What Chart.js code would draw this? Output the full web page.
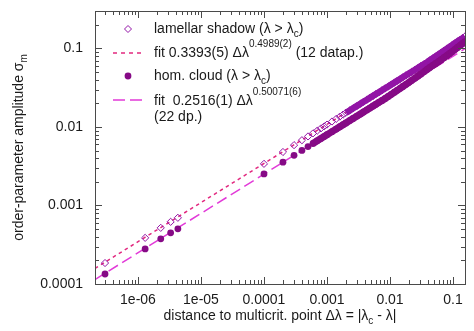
<!DOCTYPE html>
<html lang="en">
<head>
  <meta charset="UTF-8" />
  <title>Order parameter amplitude vs distance to multicritical point</title>
  <style>
    body {
      margin: 0;
      background-color: #ffffff;
    }
    #wrap {
      width: 474px;
      height: 331px;
      position: relative;
    }
  </style>
</head>
<body>
  <div id="wrap"><canvas id="chartCanvas"></canvas></div>

  <script src="https://cdn.jsdelivr.net/npm/chart.js"></script>
  <script>
    // distance to multicritical point (shared by both data sets)
    const dLambda = [
      3e-7, 1.3e-6, 2.3e-6, 3.3e-6, 4.3e-6,
      0.0001, 0.0002, 0.0003, 0.0004, 0.0005, 0.0006, 0.0007, 0.0008, 0.0009, 0.001,
      0.0012, 0.0014, 0.0016, 0.0018, 0.002, 0.0023, 0.0026, 0.003, 0.0034, 0.0038,
      0.0043, 0.0048, 0.0054, 0.006, 0.0067, 0.0075, 0.0084, 0.0094, 0.0105, 0.0118,
      0.013, 0.0145, 0.016, 0.018, 0.02, 0.022, 0.025, 0.028, 0.031, 0.035,
      0.039, 0.043, 0.048, 0.053, 0.059, 0.065, 0.072, 0.08, 0.088, 0.097,
      0.107, 0.118, 0.13, 0.142, 0.155
    ];
    // lamellar shadow (open diamonds)
    const lamellarAmp = [
      1.85e-4, 3.87e-4, 5.19e-4, 6.19e-4, 6.97e-4,
      0.00339, 0.0048, 0.00587, 0.00678, 0.00758, 0.0083, 0.00897, 0.00959, 0.01017, 0.01072,
      0.01174, 0.01268, 0.01356, 0.01438, 0.01516, 0.01626, 0.01729, 0.01857, 0.01977, 0.0209,
      0.02223, 0.02349, 0.02491, 0.02626, 0.02775, 0.02936, 0.03107, 0.03287, 0.03474, 0.03683,
      0.03865, 0.04082, 0.04288, 0.04548, 0.04794, 0.05028, 0.0536, 0.05672, 0.05969, 0.06342,
      0.06695, 0.0707, 0.075, 0.0792, 0.084, 0.0886, 0.0937, 0.0992, 0.1046, 0.1103,
      0.1164, 0.1229, 0.1293, 0.1354, 0.1421
    ];
    // homogeneous cloud (filled circles)
    const homAmp = [
      1.34e-4, 2.8e-4, 3.76e-4, 4.48e-4, 5.04e-4,
      0.00252, 0.00356, 0.00436, 0.00503, 0.00563, 0.00616, 0.00666, 0.00712, 0.00755, 0.00796,
      0.00872, 0.00941, 0.01006, 0.01067, 0.01125, 0.01207, 0.01283, 0.01378, 0.01467, 0.01551,
      0.0165, 0.01743, 0.01849, 0.01949, 0.02059, 0.02179, 0.02306, 0.02451, 0.02604, 0.02774,
      0.02926, 0.03106, 0.03278, 0.03494, 0.037, 0.03907, 0.04197, 0.04471, 0.0474, 0.05084,
      0.05416, 0.05739, 0.06091, 0.06429, 0.06814, 0.07185, 0.07629, 0.08112, 0.08584, 0.0909,
      0.0967, 0.10285, 0.10932, 0.11567, 0.12234
    ];
    // fit lines (straight in log-log, end points read at the frame edges)
    const fitLamX = [2.08e-7, 0.155];
    const fitLamY = [1.58e-4, 0.1335];
    const fitHomX = [2.08e-7, 0.155];
    const fitHomY = [1.14e-4, 0.0992];

    const xTickVals = [1e-6, 1e-5, 1e-4, 1e-3, 0.01, 0.1];
    const xTickLabels = ['1e-06', '1e-05', '0.0001', '0.001', '0.01', '0.1'];
    const yTickVals = [1e-4, 1e-3, 0.01, 0.1];
    const yTickLabels = ['0.0001', '0.001', '0.01', '0.1'];

    const xMin = 2.08e-7, xMax = 0.155;
    const yMin = 1e-4, yMax = 0.3;

    const lamColor = '#9214a6';
    const homColor = '#860a86';
    const fitLamColor = '#e2287f';
    const fitHomColor = '#e23ad8';
    const frameColor = '#4a4a4a';
    const FONT = '"Liberation Sans", Arial, Helvetica, sans-serif';

    const toPts = (xs, ys) => xs.map((x, i) => ({ x: x, y: ys[i] }));

    function bandSegment(threshold, color) {
      return ctx => (ctx.p0.parsed.x >= threshold ? color : 'rgba(0,0,0,0)');
    }

    // draws a run of text pieces: [text, 'n'|'sub'|'sup']
    function drawRich(ctx, x, y, parts) {
      ctx.textBaseline = 'middle';
      ctx.textAlign = 'left';
      parts.forEach(p => {
        let size = 14, dy = 0;
        if (p[1] === 'sub') { size = 10; dy = 5; }
        if (p[1] === 'sup') { size = 10; dy = -9; }
        ctx.font = size + 'px ' + FONT;
        ctx.fillText(p[0], x, y + dy);
        x += ctx.measureText(p[0]).width;
      });
      return x;
    }

    function richWidth(ctx, parts) {
      let w = 0;
      parts.forEach(p => {
        const size = p[1] === 'n' ? 14 : 10;
        ctx.font = size + 'px ' + FONT;
        w += ctx.measureText(p[0]).width;
      });
      return w;
    }

    const framePlugin = {
      id: 'framePlugin',
      afterDatasetsDraw(chart) {
        const ctx = chart.ctx;
        const a = chart.chartArea;
        const xs = chart.scales.x, ys = chart.scales.y;
        ctx.save();
        ctx.strokeStyle = frameColor;
        ctx.lineWidth = 1;
        ctx.strokeRect(Math.round(a.left) + 0.5, Math.round(a.top) + 0.5,
          Math.round(a.right - a.left), Math.round(a.bottom - a.top));

        // inward ticks on all four sides, minor ticks at 2..9
        ctx.beginPath();
        for (let e = -7; e <= 0; e++) {
          for (let k = 1; k <= 9; k++) {
            const v = k * Math.pow(10, e);
            const len = k === 1 ? 7 : 4;
            if (v >= xMin && v <= xMax) {
              const px = Math.round(xs.getPixelForValue(v)) + 0.5;
              ctx.moveTo(px, a.bottom); ctx.lineTo(px, a.bottom - len);
              ctx.moveTo(px, a.top); ctx.lineTo(px, a.top + len);
            }
            if (v >= yMin && v <= yMax) {
              const py = Math.round(ys.getPixelForValue(v)) + 0.5;
              ctx.moveTo(a.left, py); ctx.lineTo(a.left + len, py);
              ctx.moveTo(a.right, py); ctx.lineTo(a.right - len, py);
            }
          }
        }
        ctx.stroke();
        ctx.restore();
      },
      afterDraw(chart) {
        const ctx = chart.ctx;
        const a = chart.chartArea;
        ctx.save();
        ctx.fillStyle = '#1a1a1a';

        // legend
        const mx = 128, tx = 154;
        ctx.strokeStyle = lamColor;
        ctx.lineWidth = 1;
        ctx.beginPath();
        ctx.moveTo(mx, 29 - 3.5); ctx.lineTo(mx + 3.5, 29);
        ctx.lineTo(mx, 29 + 3.5); ctx.lineTo(mx - 3.5, 29); ctx.closePath();
        ctx.stroke();

        ctx.strokeStyle = fitLamColor;
        ctx.lineWidth = 1.5;
        ctx.setLineDash([4, 4]);
        ctx.beginPath(); ctx.moveTo(113, 53); ctx.lineTo(144, 53); ctx.stroke();

        ctx.fillStyle = homColor;
        ctx.beginPath(); ctx.arc(mx, 76, 3.4, 0, Math.PI * 2); ctx.fill();

        ctx.strokeStyle = fitHomColor;
        ctx.setLineDash([12, 5]);
        ctx.beginPath(); ctx.moveTo(113, 100); ctx.lineTo(145, 100); ctx.stroke();
        ctx.setLineDash([]);

        ctx.fillStyle = '#1a1a1a';
        drawRich(ctx, tx, 29, [['lamellar shadow (\u03bb > \u03bb', 'n'], ['c', 'sub'], [')', 'n']]);
        drawRich(ctx, tx, 53, [['fit 0.3393(5) \u0394\u03bb', 'n'], ['0.4989(2)', 'sup'], [' (12 datap.)', 'n']]);
        drawRich(ctx, tx, 76, [['hom. cloud (\u03bb > \u03bb', 'n'], ['c', 'sub'], [')', 'n']]);
        drawRich(ctx, tx, 101, [['fit  0.2516(1) \u0394\u03bb', 'n'], ['0.50071(6)', 'sup']]);
        drawRich(ctx, tx, 117, [['(22 dp.)', 'n']]);

        // x axis title
        const xParts = [['distance to multicrit. point \u0394\u03bb = |\u03bb', 'n'], ['c', 'sub'], [' - \u03bb|', 'n']];
        const xw = richWidth(ctx, xParts);
        drawRich(ctx, (a.left + a.right) / 2 - xw / 2, 316, xParts);

        // y axis title (rotated)
        const yParts = [['order-parameter amplitude \u03c3', 'n'], ['m', 'sub']];
        const yw = richWidth(ctx, yParts);
        ctx.translate(19, (a.top + a.bottom) / 2);
        ctx.rotate(-Math.PI / 2);
        drawRich(ctx, -yw / 2, 0, yParts);
        ctx.restore();
      }
    };

    const chart = new Chart(document.getElementById('chartCanvas'), {
      type: 'scatter',
      data: {
        datasets: [
          {
            label: 'lamellar shadow',
            data: toPts(dLambda, lamellarAmp),
            pointStyle: 'rectRot',
            pointRadius: 3.6,
            pointBorderWidth: 1,
            pointBorderColor: lamColor,
            pointBackgroundColor: 'rgba(255,255,255,0)',
            showLine: true,
            borderWidth: 6.5,
            borderColor: lamColor,
            segment: { borderColor: bandSegment(0.0019, lamColor) },
            order: 2
          },
          {
            label: 'fit lamellar',
            data: toPts(fitLamX, fitLamY),
            showLine: true,
            pointRadius: 0,
            borderColor: fitLamColor,
            borderWidth: 1.5,
            borderDash: [3.5, 3.5],
            order: 4
          },
          {
            label: 'hom. cloud',
            data: toPts(dLambda, homAmp),
            pointStyle: 'circle',
            pointRadius: 3.4,
            pointBorderWidth: 0,
            pointBackgroundColor: homColor,
            showLine: true,
            borderWidth: 7,
            borderColor: homColor,
            segment: { borderColor: bandSegment(0.0006, homColor) },
            order: 1
          },
          {
            label: 'fit hom',
            data: toPts(fitHomX, fitHomY),
            showLine: true,
            pointRadius: 0,
            borderColor: fitHomColor,
            borderWidth: 1.5,
            borderDash: [11, 5],
            order: 3
          }
        ]
      },
      options: {
        responsive: true,
        maintainAspectRatio: false,
        animation: false,
        events: [],
        layout: { padding: { top: 11, right: 9, left: 0, bottom: 0 } },
        plugins: {
          legend: { display: false },
          tooltip: { enabled: false }
        },
        scales: {
          x: {
            type: 'logarithmic',
            min: xMin,
            max: xMax,
            grid: { display: false, drawTicks: false },
            border: { display: false },
            afterBuildTicks: scale => { scale.ticks = xTickVals.map(v => ({ value: v })); },
            afterFit: scale => {
              scale.height = 47;
              scale.paddingLeft = 0;
              scale.paddingRight = 0;
            },
            ticks: {
              autoSkip: false,
              maxRotation: 0,
              padding: 8,
              color: '#1a1a1a',
              font: { family: FONT, size: 14 },
              callback: (value, index) => xTickLabels[index]
            }
          },
          y: {
            type: 'logarithmic',
            min: yMin,
            max: yMax,
            grid: { display: false, drawTicks: false },
            border: { display: false },
            afterBuildTicks: scale => { scale.ticks = yTickVals.map(v => ({ value: v })); },
            afterFit: scale => {
              scale.width = 95;
              scale.paddingTop = 0;
              scale.paddingBottom = 0;
            },
            ticks: {
              autoSkip: false,
              padding: 12,
              color: '#1a1a1a',
              font: { family: FONT, size: 14 },
              callback: (value, index) => yTickLabels[index]
            }
          }
        }
      },
      plugins: [framePlugin]
    });
  </script>
</body>
</html>
